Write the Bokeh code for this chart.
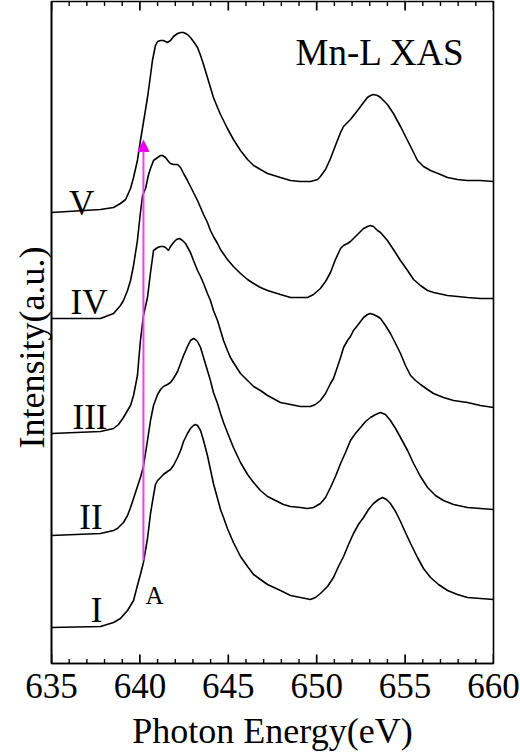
from bokeh.plotting import figure
from bokeh.models import Range1d, FixedTicker, Arrow, NormalHead, ColumnDataSource, Title
from bokeh.core.properties import value
from bokeh.embed import file_html
from bokeh.resources import INLINE

FONT = "Liberation Serif"

# ---------------- data (photon energy in eV, stacked intensity in a.u.) ----------------
e_V = [635.00, 637.77, 638.51, 638.90, 639.19, 639.47, 639.64, 639.86, 640.03, 640.20, 640.43, 640.60,
       640.71, 640.88, 641.00, 641.17, 641.33, 641.56, 641.73, 641.90, 642.13, 642.30, 642.47, 642.69,
       642.86, 643.03, 643.26, 643.43, 643.60, 643.82, 643.99, 644.16, 644.39, 644.56, 644.95, 645.29,
       645.69, 646.09, 646.43, 646.82, 647.22, 647.95, 648.52, 649.08, 649.65, 650.05, 650.21, 650.50,
       650.78, 651.06, 651.35, 651.52, 651.74, 651.91, 652.31, 652.65, 652.87, 653.04, 653.21, 653.44,
       653.61, 654.00, 654.34, 654.74, 655.14, 655.48, 655.70, 656.04, 656.44, 657.00, 657.40, 657.96,
       658.53, 659.26, 660.00]
i_V = [451, 454, 456, 460, 464, 475, 486, 503, 523, 541, 566, 588,
       603, 618, 622, 623, 623, 621, 623, 627, 630, 631, 631, 629,
       626, 622, 616, 608, 599, 586, 576, 566, 556, 549, 535, 524,
       513, 504, 498, 494, 490, 486, 483, 482, 482, 484, 487, 494,
       505, 518, 531, 537, 541, 544, 553, 561, 566, 568, 569, 568,
       566, 559, 550, 537, 523, 511, 503, 497, 493, 489, 486, 484,
       483, 483, 482]

e_IV = [635.00, 637.77, 638.51, 638.90, 639.07, 639.30, 639.47, 639.64, 639.86, 640.03, 640.15, 640.32,
        640.49, 640.60, 640.77, 641.00, 641.17, 641.28, 641.45, 641.62, 641.73, 641.90, 642.13, 642.30,
        642.47, 642.69, 642.86, 643.03, 643.26, 643.43, 643.60, 643.82, 643.99, 644.16, 644.39, 644.56,
        644.95, 645.29, 645.69, 646.09, 646.43, 646.82, 647.22, 647.95, 648.52, 649.08, 649.48, 649.82,
        650.21, 650.50, 650.78, 651.06, 651.35, 651.52, 651.74, 651.91, 652.31, 652.65, 652.87, 653.04,
        653.21, 653.44, 653.61, 654.00, 654.34, 654.74, 655.14, 655.48, 655.87, 656.27, 656.61, 657.40,
        658.53, 659.26, 660.00]
i_IV = [345, 345, 350, 358, 363, 373, 383, 398, 423, 451, 468, 475,
        489, 495, 503, 506, 508, 508, 506, 502, 500, 499, 499, 496,
        490, 483, 477, 471, 463, 456, 449, 441, 433, 427, 420, 414,
        404, 397, 390, 384, 380, 376, 373, 369, 366, 366, 366, 369,
        375, 382, 391, 404, 415, 418, 420, 422, 429, 435, 437, 438,
        437, 433, 431, 423, 414, 403, 393, 384, 378, 373, 371, 368,
        366, 365, 365]

e_III = [635.00, 637.77, 638.51, 638.79, 639.07, 639.30, 639.47, 639.64, 639.86, 640.03, 640.20, 640.43,
         640.60, 640.77, 641.00, 641.17, 641.33, 641.45, 641.62, 641.73, 641.90, 642.07, 642.24, 642.41,
         642.58, 642.86, 643.03, 643.26, 643.43, 643.60, 643.82, 643.99, 644.16, 644.39, 644.56, 644.73,
         644.95, 645.12, 645.29, 645.69, 646.09, 646.43, 646.82, 647.22, 647.95, 648.52, 649.08, 649.65,
         649.93, 650.21, 650.50, 650.78, 650.95, 651.18, 651.35, 651.52, 651.74, 651.91, 652.08, 652.31,
         652.65, 652.87, 653.04, 653.21, 653.44, 653.61, 653.89, 654.17, 654.46, 654.74, 655.02, 655.31,
         655.59, 655.87, 656.27, 656.61, 657.17, 657.74, 658.53, 659.26, 660.00]
i_III = [230, 232, 235, 239, 246, 253, 258, 268, 288, 323, 348, 366,
         391, 413, 416, 417, 417, 416, 413, 417, 421, 424, 425, 423,
         420, 411, 403, 393, 387, 380, 370, 363, 353, 343, 333, 323,
         313, 306, 301, 290, 283, 277, 273, 268, 261, 259, 257, 257,
         259, 263, 270, 280, 285, 297, 306, 316, 323, 327, 333, 338,
         346, 349, 350, 349, 347, 345, 338, 330, 320, 310, 298, 288,
         283, 279, 274, 270, 266, 263, 261, 258, 256]

e_II = [635.00, 637.77, 638.51, 638.73, 639.07, 639.30, 639.47, 639.64, 639.86, 640.03, 640.20, 640.43,
        640.60, 640.77, 641.00, 641.17, 641.33, 641.56, 641.73, 641.90, 642.13, 642.30, 642.47, 642.69,
        642.86, 643.03, 643.14, 643.26, 643.43, 643.60, 643.82, 643.99, 644.16, 644.39, 644.56, 644.73,
        644.95, 645.29, 645.69, 646.09, 646.43, 646.82, 647.22, 648.12, 648.52, 649.08, 649.48, 649.82,
        650.21, 650.50, 650.78, 651.06, 651.35, 651.63, 651.91, 652.19, 652.48, 652.76, 653.04, 653.33,
        653.61, 653.89, 654.17, 654.46, 654.74, 655.14, 655.48, 655.87, 656.27, 656.72, 657.17, 657.74,
        658.53, 659.26, 660.00]
i_II = [128, 130, 133, 135, 141, 148, 156, 165, 177, 186, 197, 223,
        243, 258, 269, 274, 277, 279, 281, 285, 292, 300, 308, 317,
        323, 325, 324, 322, 316, 306, 293, 283, 271, 260, 250, 241,
        231, 216, 201, 189, 181, 173, 167, 159, 157, 156, 155, 156,
        160, 166, 176, 187, 200, 211, 223, 230, 236, 242, 246, 249,
        251, 249, 243, 235, 226, 213, 200, 187, 176, 168, 163, 159,
        156, 155, 154]

e_I = [635.00, 637.77, 638.51, 638.90, 639.30, 639.64, 639.86, 640.03, 640.20, 640.43, 640.60, 640.77,
       640.88, 641.00, 641.17, 641.33, 641.56, 641.73, 641.90, 642.13, 642.30, 642.47, 642.69, 642.86,
       643.03, 643.14, 643.26, 643.43, 643.60, 643.82, 643.99, 644.16, 644.39, 644.56, 644.73, 644.95,
       645.29, 645.52, 645.69, 646.09, 646.43, 646.82, 647.22, 647.95, 648.52, 649.08, 649.65, 649.93,
       650.21, 650.61, 650.95, 651.23, 651.52, 651.80, 652.08, 652.36, 652.65, 652.93, 653.21, 653.50,
       653.72, 653.95, 654.17, 654.46, 654.74, 655.02, 655.31, 655.70, 656.04, 656.44, 656.89, 657.40,
       657.96, 658.53, 659.26, 660.00]
i_I = [36, 37, 41, 45, 53, 63, 78, 89, 101, 125, 150, 168,
       179, 183, 186, 189, 192, 194, 198, 206, 213, 222, 230, 235,
       238, 239, 238, 233, 223, 208, 194, 180, 165, 154, 146, 135,
       121, 113, 107, 97, 89, 84, 79, 73, 68, 66, 64, 66,
       70, 77, 86, 97, 107, 119, 130, 139, 146, 154, 160, 164,
       166, 164, 160, 152, 142, 131, 120, 106, 95, 86, 79, 73,
       69, 66, 65, 64]

sample_names = ["I", "II", "III", "IV", "V"]
label_x = [637.55, 637.23, 637.18, 637.12, 636.70]
label_y = [53, 146, 246, 361, 460]

x_ticks = [635, 640, 645, 650, 655, 660]
x_minor = [e for e in range(635, 661) if e % 5 != 0]
x_min, x_max = 635, 660
y_min, y_max = 0, 662

arrow_energy = 640.2
arrow_from, arrow_to = 103, 523

# ---------------- figure ----------------
p = figure(width=520, height=753, output_backend="svg", toolbar_location=None,
           x_range=Range1d(x_min, x_max), y_range=Range1d(y_min, y_max),
           min_border_left=51, min_border_right=27, min_border_top=1, min_border_bottom=90)
p.background_fill_color = "white"
p.border_fill_color = "white"
p.grid.visible = False
p.outline_line_color = "black"
p.outline_line_width = 1.6

for e, i in [(e_I, i_I), (e_II, i_II), (e_III, i_III), (e_IV, i_IV), (e_V, i_V)]:
    p.line(e, i, line_color="black", line_width=1.6)

# inward tick marks on the bottom and top edges (ticks of the energy axis)
maj_len, min_len = 9, 4.5
p.multi_line(xs=[[t, t] for t in x_ticks], ys=[[y_min, y_min + maj_len] for t in x_ticks],
             line_color="black", line_width=1.7)
p.multi_line(xs=[[t, t] for t in x_ticks], ys=[[y_max, y_max - maj_len] for t in x_ticks],
             line_color="black", line_width=1.7)
p.multi_line(xs=[[t, t] for t in x_minor], ys=[[y_min, y_min + min_len] for t in x_minor],
             line_color="black", line_width=1.4)
p.multi_line(xs=[[t, t] for t in x_minor], ys=[[y_max, y_max - min_len] for t in x_minor],
             line_color="black", line_width=1.4)

# x axis (bottom): labels
xa = p.xaxis[0]
xa.ticker = FixedTicker(ticks=x_ticks, minor_ticks=x_minor)
xa.major_tick_in = 0
xa.major_tick_out = 0
xa.minor_tick_in = 0
xa.minor_tick_out = 0
xa.major_tick_line_color = None
xa.minor_tick_line_color = None
xa.axis_line_width = 1.6
xa.major_label_text_font = FONT
xa.major_label_text_font_size = "35px"
xa.major_label_text_color = "black"
xa.major_label_standoff = 10
xa.axis_label = "Photon Energy(eV)"
xa.axis_label_text_font = FONT
xa.axis_label_text_font_size = "36px"
xa.axis_label_text_font_style = "normal"
xa.axis_label_text_color = "black"
xa.axis_label_standoff = 10

# y axis: line only; its title is set beside it
ya = p.yaxis[0]
ya.ticker = FixedTicker(ticks=[])
ya.major_tick_line_color = None
ya.minor_tick_line_color = None
ya.major_tick_in = 0
ya.major_tick_out = 0
ya.major_label_standoff = 0
ya.axis_line_width = 1.6
p.add_layout(Title(text="Intensity(a.u.)", align="left", offset=215, standoff=0,
                   text_font=FONT, text_font_size="36px", text_font_style="normal",
                   text_color="black"), "left")

# sample labels
src = ColumnDataSource(dict(x=label_x, y=label_y, t=sample_names))
p.text(x="x", y="y", text="t", source=src, text_font=value(FONT), text_font_size="35px",
       text_align="center", text_baseline="alphabetic", text_color="black")

p.text(x=[640.32], y=[68], text=["A"], text_font=value(FONT), text_font_size="25px",
       text_align="left", text_baseline="alphabetic", text_color="black")
p.text(x=[648.80], y=[611], text=["Mn-L XAS"], text_font=value(FONT), text_font_size="37px",
       text_align="left", text_baseline="alphabetic", text_color="black")

# magenta arrow
p.add_layout(Arrow(end=NormalHead(size=11, fill_color="#ee00ee", line_color="#ee00ee"),
                   x_start=arrow_energy, y_start=arrow_from, x_end=arrow_energy, y_end=arrow_to,
                   line_color="#ee44ee", line_width=2))

open("out.html", "w").write(file_html(p, INLINE))
